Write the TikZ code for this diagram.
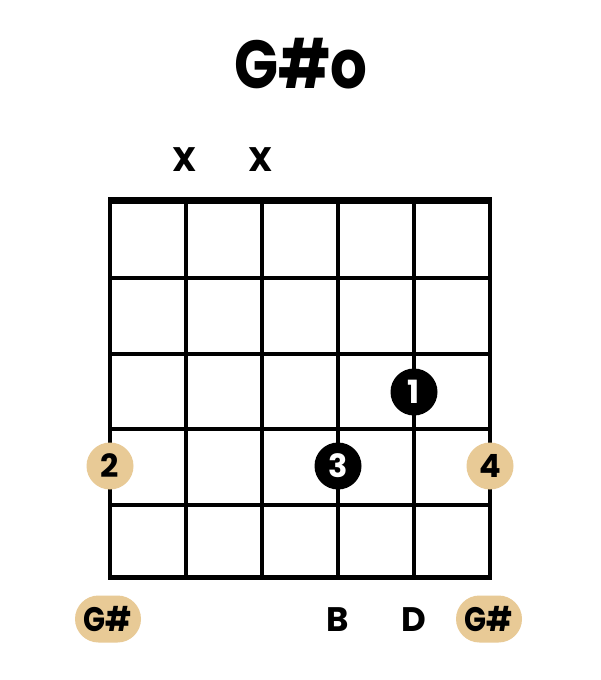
\documentclass[tikz,border=0pt]{standalone}
\usepackage{graphicx}
\usepackage{fontspec}
\setmainfont{Poppins}
\usetikzlibrary{shapes.misc}
\definecolor{tan}{RGB}{232,202,150}
\newcommand{\narrow}[1]{\scalebox{0.85}[1]{#1}}
\tikzset{
  x=1pt,y=-1pt,
  gridline/.style={line width=4pt,black},
  topbar/.style={line width=7pt,black},
  lbl/.style={font=\fontsize{34}{34}\selectfont\bfseries,inner sep=0pt,anchor=base},
  ttl/.style={font=\fontsize{68}{68}\selectfont\bfseries,inner sep=0pt,anchor=base},
  fingerdark/.style={circle,fill=black,text=white,minimum size=47pt,inner sep=0pt,
    font=\fontsize{32}{32}\selectfont\bfseries},
  fingertan/.style={circle,fill=tan,text=black,minimum size=47pt,inner sep=0pt,
    font=\fontsize{32}{32}\selectfont\bfseries},
  notepill/.style={rounded rectangle,fill=tan,minimum width=66pt,minimum height=47pt,
    inner sep=0pt,font=\fontsize{34}{34}\selectfont\bfseries}
}
\begin{document}
\begin{tikzpicture}
\useasboundingbox[fill=white] (0,0) rectangle (600,680);
% title
\node[ttl] (title) at (301,88) {\narrow{G\#o}};
% muted strings
\node[lbl] (x1) at (185,171) {X};
\node[lbl] (x2) at (261,171) {X};
% grid
\foreach \s in {110,186,262,338,414,490}
  \draw[gridline] (\s,200) -- (\s,579);
\foreach \f in {277.5,353.5,429,505}
  \draw[gridline] (108,\f) -- (492,\f);
\draw[line width=5pt] (108,577) -- (492,577);
\draw[topbar] (108,200) -- (492,200);
% fingers
\node[fingerdark] (f1) at (414,392) {1};
\node[fingertan]  (f2) at (110,466) {2};
\node[fingerdark] (f3) at (338,466) {3};
\node[fingertan]  (f4) at (490,466) {4};
% note names
\node[notepill] (n1) at (108,619) {\narrow{G\#}};
\node[lbl] (n4) at (338,631) {B};
\node[lbl] (n5) at (414,631) {D};
\node[notepill] (n6) at (489,619) {\narrow{G\#}};
\end{tikzpicture}
\end{document}
